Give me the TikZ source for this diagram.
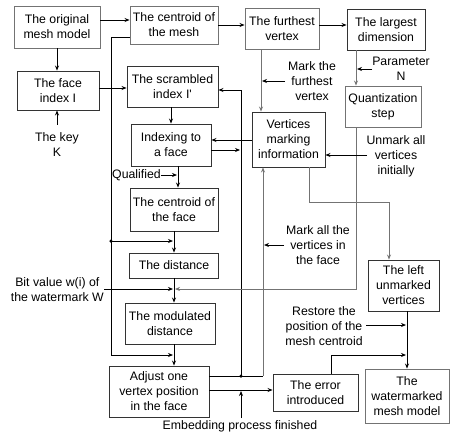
\documentclass[tikz,border=0pt]{standalone}
\usepackage{fontspec}
\setmainfont{Liberation Sans}
\usetikzlibrary{arrows.meta,calc}
\begin{document}
\begin{tikzpicture}[x=1pt,y=-1pt,
  box/.style={draw=black!80, line width=0.9pt, align=center, inner sep=1pt, font=\fontsize{12.3}{15}\selectfont},
  gbox/.style={box, draw=black!55},
  lbl/.style={align=center, inner sep=0pt, font=\fontsize{12.3}{15}\selectfont},
  arr/.style={-{Stealth[length=5pt,width=4pt]}},
  ln/.style={draw=black, line width=0.8pt},
  gl/.style={draw=black!55, line width=0.8pt},
  dot/.style={circle, fill=black, inner sep=0pt, minimum size=3.5pt}]
\useasboundingbox (0,0) rectangle (474,434);

% boxes
\node[gbox, minimum width=86pt, minimum height=42pt] (orig) at (57,27) {The original\\mesh model};
\node[gbox, minimum width=88pt, minimum height=38pt] (cmesh) at (174,25) {The centroid of\\the mesh};
\node[gbox, minimum width=74pt, minimum height=41pt] (furth) at (282,28.5) {The furthest\\vertex};
\node[box, minimum width=78pt, minimum height=41pt] (large) at (386,29.5) {The largest\\dimension};
\node[box, minimum width=82pt, minimum height=39pt] (faceidx) at (58,90.5) {The face\\index I};
\node[box, minimum width=91pt, minimum height=41pt] (scram) at (172.5,86.5) {The scrambled\\index I\textquotesingle};
\node[box, minimum width=80pt, minimum height=42pt] (indexing) at (171,145) {Indexing to\\a face};
\node[box, minimum width=88pt, minimum height=43pt] (cface) at (174,209.5) {The centroid of\\the face};
\node[box, minimum width=89pt, minimum height=25pt] (dist) at (174,265.5) {The distance};
\node[box, minimum width=90pt, minimum height=41pt] (mod) at (170,323.5) {The modulated\\distance};
\node[box, minimum width=100pt, minimum height=51pt] (adjust) at (159,391.5) {Adjust one\\vertex position\\in the face};
\node[box, minimum width=73pt, minimum height=55pt] (vmark) at (288.5,139.5) {Vertices\\marking\\information};
\node[gbox, minimum width=76pt, minimum height=41pt] (quant) at (383,106.5) {Quantization\\step};
\node[box, minimum width=71pt, minimum height=51pt] (leftun) at (403.5,285.5) {The left\\unmarked\\vertices};
\node[box, minimum width=85pt, minimum height=37pt] (error) at (315.5,392.5) {The error\\introduced};
\node[gbox, minimum width=84pt, minimum height=54pt] (wm) at (407,396) {The\\watermarked\\mesh model};

% labels
\node[lbl] (key) at (57,145) {The key\\K};
\node[lbl] (markf) at (312,81) {Mark the\\furthest\\vertex};
\node[lbl] (param) at (401,69) {Parameter\\N};
\node[lbl] (unmark) at (396,156) {Unmark all\\vertices\\initially};
\node[lbl, anchor=west] (qual) at (112,175) {Qualified};
\node[lbl] (markall) at (318,245) {Mark all the\\vertices in\\the face};
\node[lbl, anchor=east] (bit) at (104,290) {Bit value w(i) of\\the watermark W};
\node[lbl] (restore) at (324,326) {Restore the\\position of the\\mesh centroid};
\node[lbl] (embed) at (240,426) {Embedding process finished};

% top row
\draw[ln,arr] (orig.east |- 0,20) -- (cmesh.west |- 0,20);
\draw[ln,arr] (cmesh.east |- 0,25) -- (furth.west |- 0,25);
\draw[ln,arr] (furth.east |- 0,25) -- (large.west |- 0,25);
\draw[ln,arr] (orig.south -| 57,0) -- (faceidx.north -| 57,0);
\draw[ln,arr] (key.north) ++(0,-8) coordinate (keytop) -- (faceidx.south -| keytop);
\draw[ln,arr] (faceidx.east |- 0,88) -- (scram.west |- 0,88);

% main chain
\draw[ln,arr] (scram.south -| 171,0) -- (indexing.north -| 171,0);
\draw[ln,arr] (indexing.south -| 178,0) -- (cface.north -| 178,0);
\coordinate (qarr) at (177,175);
\draw[ln,arr] (qual.east) -- (qarr);
\draw[ln,arr] (cface.south) -- (dist.north);
\draw[ln,arr] (dist.south) -- (dist.south |- mod.north);
\draw[ln,arr] (mod.south -| dist.south) -- (dist.south |- adjust.north);

% left long line from the centroid of the mesh
\coordinate (L1) at (111,37);
\coordinate (L2) at (111,355);
\coordinate (Ld) at (111,241);
\draw[ln] (cmesh.west |- L1) -- (L1) -- (L2);
\draw[ln,arr] (L2) -- (173,355);
\draw[ln,arr] (Ld) -- (173,241);
\node[dot] at (Ld) {};

% loop line
\coordinate (R1) at (241,90);
\coordinate (R2) at (241,376);
\coordinate (R3) at (263,376);
\draw[ln,arr] (R2) -- (R1) -- (scram.east |- R1);
\draw[ln] (adjust.east |- R2) -- (R3);
\draw[gl,arr] (R3) -- (vmark.south -| R3);
\node[dot] at (R2) {};
\draw[ln,arr] (indexing.east |- 0,150) -- (240,150);
\draw[ln,arr] (vmark.west |- 0,140) -- (indexing.east |- 0,140);
\coordinate (ma) at (264,245);
\draw[ln,arr] (284,245) -- (ma);

% furthest -> vertices marking
\draw[gl,arr] (furth.south -| 261,0) -- (vmark.north -| 261,0);
\draw[ln,arr] (285,81) -- (262,81);

% largest -> quantization -> modulation
\draw[gl,arr] (large.south -| 356,0) -- (quant.north -| 356,0);
\draw[ln,arr] (372,69) -- (357,69);
\coordinate (Q1) at (356,289);
\draw[gl,arr] (quant.south -| Q1) -- (Q1) -- (175,289);
\draw[ln,arr] (bit.east |- 0,289) -- (173,289);
\draw[ln,arr] (367,155) -- (vmark.east |- 0,155);

% vertices marking -> left unmarked
\coordinate (V1) at (309,202);
\coordinate (V2) at (389,202);
\draw[gl,arr] (vmark.south -| V1) -- (V1) -- (V2) -- (leftun.north -| V2);

% bottom
\draw[ln,arr] (adjust.east |- 0,390) -- (error.west |- 0,390);
\draw[ln,arr] (241,418) -- (241,391);
\draw[ln,arr] (leftun.south -| 407,0) -- (wm.north -| 407,0);
\draw[ln,arr] (366,325) -- (406,325);
\coordinate (E1) at (331,355);
\draw[ln,arr] (error.north -| E1) -- (E1) -- (406,355);
\end{tikzpicture}
\end{document}
